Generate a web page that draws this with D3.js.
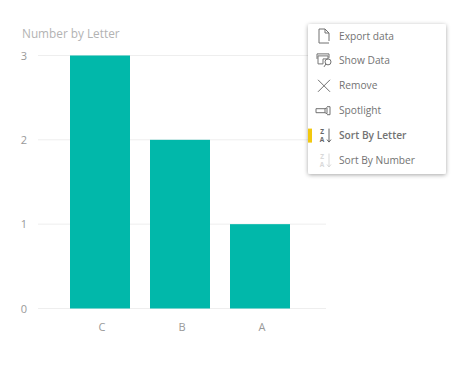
<!DOCTYPE html>
<html lang="en">
<head>
    <meta charset="UTF-8">
    <title>Number by Letter</title>
    <script src="https://d3js.org/d3.v7.min.js"></script>
    <style>
        html, body { margin: 0; padding: 0; background: #fff; }
        svg { display: block; font-family: "Open Sans", "Noto Sans", sans-serif; }
        .grid line { stroke: #eeeeee; stroke-width: 1px; }
        .axis text { fill: #999; font-size: 11px; font-family: "Open Sans", sans-serif; }
        .menu-item { fill: #737373; font-size: 10.2px; }
        .icon { fill: none; stroke: #707070; stroke-width: 1; }
    </style>
</head>
<body>
    <div id="chart"></div>
    <script>
        const letters = ['C', 'B', 'A'];
        const numbers = [3, 2, 1];
        const yTicks = [0, 1, 2, 3];
        const menuLabels = ['Export data', 'Show Data', 'Remove', 'Spotlight', 'Sort By Letter', 'Sort By Number'];

        const width = 474, height = 365;

        const svg = d3.select('#chart')
                      .append('svg')
                      .attr('width', width)
                      .attr('height', height);

        const x = d3.scaleBand()
                    .domain(letters)
                    .range([60, 300])
                    .paddingInner(0.25)
                    .paddingOuter(0.125);

        const y = d3.scaleLinear()
                    .domain([0, 3])
                    .range([308.5, 55.5]);

        svg.append('text')
           .attr('x', 22)
           .attr('y', 38)
           .attr('fill', '#b3b3b3')
           .style('font-size', '11.8px')
           .text('Number by Letter');

        // Gridlines behind the bars
        svg.append('g')
           .attr('class', 'grid')
           .selectAll('line')
           .data(yTicks)
           .enter().append('line')
           .attr('x1', 38)
           .attr('x2', 326)
           .attr('y1', d => y(d))
           .attr('y2', d => y(d));

        svg.append('g')
           .selectAll('rect')
           .data(numbers)
           .enter().append('rect')
           .attr('x', (d, i) => x(letters[i]))
           .attr('y', d => y(d))
           .attr('width', x.bandwidth())
           .attr('height', d => y(0) - y(d))
           .attr('fill', '#01b8aa');

        // Axes, domain and tick marks hidden
        const yAxis = svg.append('g')
                         .attr('class', 'axis')
                         .attr('transform', 'translate(27,0)')
                         .call(d3.axisLeft(y).tickValues(yTicks).tickFormat(d3.format('d')).tickSize(0).tickPadding(0));
        yAxis.select('.domain').remove();

        const xAxis = svg.append('g')
                         .attr('class', 'axis')
                         .attr('transform', 'translate(2,320)')
                         .call(d3.axisBottom(x).tickSize(0).tickPadding(3));
        xAxis.select('.domain').remove();

        // Context menu
        const defs = svg.append('defs');
        const shadow = defs.append('filter')
                           .attr('id', 'shadow')
                           .attr('x', '-10%').attr('y', '-10%')
                           .attr('width', '120%').attr('height', '120%');
        shadow.append('feDropShadow')
              .attr('dx', 0).attr('dy', 1)
              .attr('stdDeviation', 2)
              .attr('flood-color', '#000')
              .attr('flood-opacity', 0.35);

        const menuY = d3.scalePoint()
                        .domain(menuLabels)
                        .range([36, 160.5]);

        const menu = svg.append('g');

        menu.append('rect')
            .attr('x', 308)
            .attr('y', 24)
            .attr('width', 138)
            .attr('height', 150)
            .attr('rx', 2)
            .attr('fill', '#fff')
            .attr('filter', 'url(#shadow)');

        menu.selectAll('text')
            .data(menuLabels)
            .enter().append('text')
            .attr('class', 'menu-item')
            .attr('x', 339)
            .attr('y', d => menuY(d))
            .attr('dy', '.35em')
            .style('font-weight', d => d === 'Sort By Letter' ? 600 : 400)
            .text(d => d);

        menu.append('rect')
            .attr('x', 308)
            .attr('y', menuY('Sort By Letter') - 7)
            .attr('width', 4)
            .attr('height', 14)
            .attr('fill', '#f2c80f');

        // Icons, one small group per menu row
        const icon = label => menu.append('g')
                                  .attr('class', 'icon')
                                  .attr('transform', `translate(324,${menuY(label)})`);

        icon('Export data').append('path')
            .attr('d', 'M5,7H-5V-7H1L5,-3V5M1,-7V-3H5');

        const showData = icon('Show Data');
        showData.append('path').attr('d', 'M-7,-2V-7H5V-3');
        showData.append('path').attr('d', 'M-6,-5H4V-2H-1V3H-6Z').attr('stroke', '#777');
        showData.append('circle').attr('cx', 4).attr('cy', 1).attr('r', 3);
        showData.append('path').attr('d', 'M2,3L0,6');

        icon('Remove').append('path')
            .attr('d', 'M-6,-6L6,6M6,-6L-6,6');

        const spotlight = icon('Spotlight');
        spotlight.append('path').attr('d', 'M-8,-2H1V2H-8Z');
        spotlight.append('path').attr('d', 'M1,-2L3,-3V3L1,2');
        spotlight.append('path').attr('d', 'M3,-4H6V4H3');

        const sortGlyph = (label, color) => {
            const g = icon(label).style('stroke', color);
            g.append('path').attr('d', 'M5,-7V6M3,4L5,6.5L7,4');
            g.append('text')
             .attr('x', -2).attr('y', -2)
             .attr('text-anchor', 'middle')
             .attr('fill', color).attr('stroke', 'none')
             .style('font-size', '6.5px').style('font-weight', 700)
             .text('Z');
            g.append('text')
             .attr('x', -2).attr('y', 6)
             .attr('text-anchor', 'middle')
             .attr('fill', color).attr('stroke', 'none')
             .style('font-size', '6.5px').style('font-weight', 700)
             .text('A');
        };
        sortGlyph('Sort By Letter', '#666');
        sortGlyph('Sort By Number', '#d9d9d9');
    </script>
</body>
</html>
